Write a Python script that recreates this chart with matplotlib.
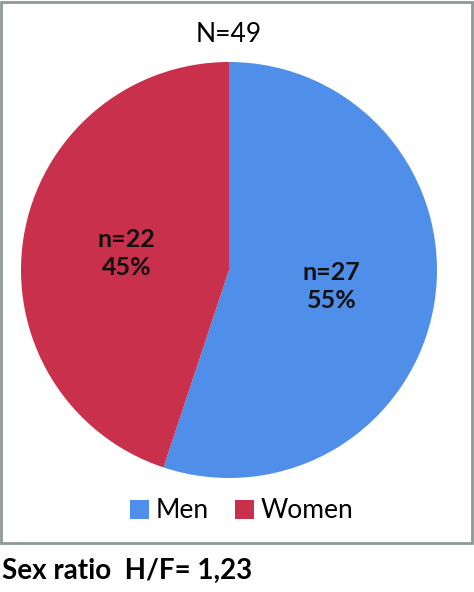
import matplotlib
matplotlib.use("Agg")
import matplotlib.pyplot as plt
from matplotlib.patches import Rectangle, Patch

plt.rcParams['font.family'] = ['Lato', 'DejaVu Sans']

# Data
labels = ["Men", "Women"]
counts = [27, 22]
colors = ["#4F8FEA", "#C8304B"]
total = sum(counts)
title = "N=%d" % total
footer = "Sex ratio  H/F= 1,23"

fig = plt.figure(figsize=(4.74, 5.92), dpi=100)

# gray frame around the chart area
fig.patches.append(Rectangle((1 / 474, 1 - 543 / 592), 471 / 474, 541 / 592,
                             transform=fig.transFigure, fill=False,
                             edgecolor="#8E9995", linewidth=2))

ax = fig.add_axes([21 / 474, 114 / 592, 416 / 474, 416 / 592])


def fmt(pct):
    n = int(round(pct * total / 100.0))
    return "n=%d\n%d%%" % (n, round(pct))


ax.pie(counts, colors=colors, startangle=90, counterclock=False,
       autopct=fmt, pctdistance=0.5, radius=1,
       textprops=dict(fontsize=18, fontweight="bold", color="#111111",
                      linespacing=1.3))
ax.set_xlim(-1, 1)
ax.set_ylim(-1, 1)
ax.set_aspect("equal")

fig.text(229 / 474, 1 - 34 / 592, title, ha="center", va="center", fontsize=19)

handles = [Patch(facecolor=c, edgecolor="none") for c in colors]
fig.legend(handles, labels, loc="center", bbox_to_anchor=(242 / 474, 1 - 511 / 592),
           ncol=2, frameon=False, fontsize=19, handlelength=0.72, handleheight=0.72,
           handletextpad=0.25, columnspacing=1.0)

fig.text(2 / 474, 1 - 571 / 592, footer, ha="left", va="center",
         fontsize=20, fontweight="bold")

fig.savefig("out.png", dpi=100)
